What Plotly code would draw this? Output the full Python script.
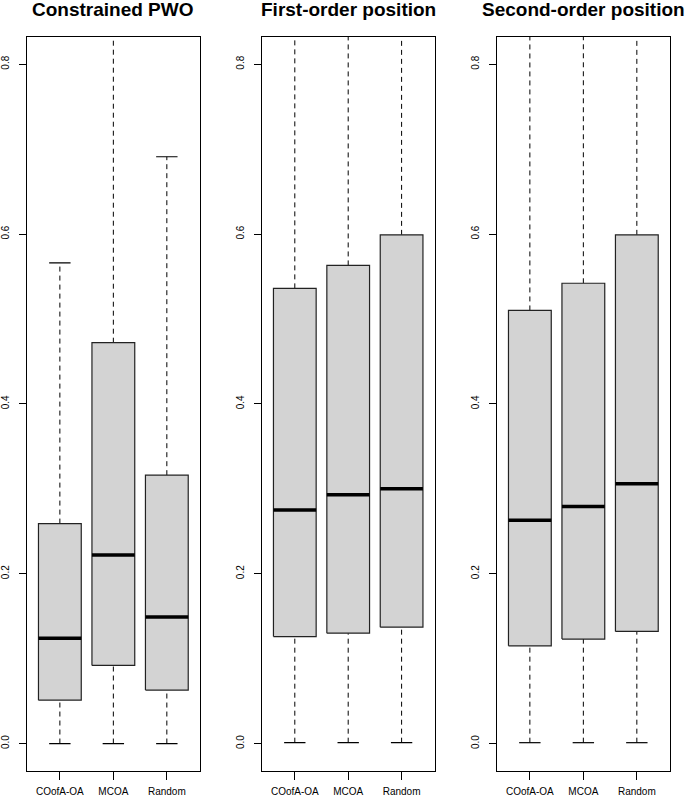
import plotly.graph_objects as go

# grupos e titulos dos paineis
grupos = ["COofA-OA", "MCOA", "Random"]
titulos = ["Constrained PWO", "First-order position", "Second-order position"]

# estatisticas (bigode inferior, Q1, mediana, Q3, bigode superior)
pwo_inferior = [0.0, 0.0, 0.0]
pwo_q1 = [0.051, 0.092, 0.063]
pwo_mediana = [0.124, 0.222, 0.149]
pwo_q3 = [0.259, 0.472, 0.316]
pwo_superior = [0.566, 0.95, 0.691]

primeira_inferior = [0.001, 0.001, 0.001]
primeira_q1 = [0.126, 0.130, 0.137]
primeira_mediana = [0.275, 0.293, 0.300]
primeira_q3 = [0.536, 0.563, 0.599]
primeira_superior = [0.95, 0.95, 0.95]

segunda_inferior = [0.001, 0.001, 0.001]
segunda_q1 = [0.115, 0.123, 0.132]
segunda_mediana = [0.263, 0.279, 0.306]
segunda_q3 = [0.510, 0.542, 0.599]
segunda_superior = [0.95, 0.95, 0.95]

paineis = [
    (pwo_inferior, pwo_q1, pwo_mediana, pwo_q3, pwo_superior),
    (primeira_inferior, primeira_q1, primeira_mediana, primeira_q3, primeira_superior),
    (segunda_inferior, segunda_q1, segunda_mediana, segunda_q3, segunda_superior),
]

LARGURA = 685
ALTURA = 798
meia_caixa = 0.4
meio_cap = 0.2
dominios = [(26.7, 200.0), (261.7, 434.7), (496.7, 670.0)]
topo, base = 37.0, 770.7

fig = go.Figure()

for i, (inf, q1, med, q3, sup) in enumerate(paineis):
    sufixo = "" if i == 0 else str(i + 1)
    xr = "x" + sufixo
    yr = "y" + sufixo
    posicoes = [1, 2, 3]

    # bigodes tracejados
    wx, wy = [], []
    for p, a, b, c, d in zip(posicoes, inf, q1, q3, sup):
        wx += [p, p, None, p, p, None]
        wy += [a, b, None, c, d, None]
    fig.add_trace(go.Scatter(x=wx, y=wy, mode="lines", xaxis=xr, yaxis=yr,
                             line=dict(color="black", width=1, dash="5px,4px"),
                             hoverinfo="skip", showlegend=False))

    # extremos dos bigodes
    cx, cy = [], []
    for p, a, d in zip(posicoes, inf, sup):
        cx += [p - meio_cap, p + meio_cap, None, p - meio_cap, p + meio_cap, None]
        cy += [a, a, None, d, d, None]
    fig.add_trace(go.Scatter(x=cx, y=cy, mode="lines", xaxis=xr, yaxis=yr,
                             line=dict(color="black", width=1.2),
                             hoverinfo="skip", showlegend=False))

    # caixas
    bx, by = [], []
    for p, b, c in zip(posicoes, q1, q3):
        bx += [p - meia_caixa, p + meia_caixa, p + meia_caixa, p - meia_caixa, p - meia_caixa, None]
        by += [b, b, c, c, b, None]
    fig.add_trace(go.Scatter(x=bx, y=by, mode="lines", fill="toself", xaxis=xr, yaxis=yr,
                             fillcolor="#D3D3D3", line=dict(color="#222222", width=1.2),
                             hoverinfo="skip", showlegend=False))

    # medianas
    mx, my = [], []
    for p, m in zip(posicoes, med):
        mx += [p - meia_caixa, p + meia_caixa, None]
        my += [m, m, None]
    fig.add_trace(go.Scatter(x=mx, y=my, mode="lines", xaxis=xr, yaxis=yr,
                             line=dict(color="black", width=3.5),
                             hoverinfo="skip", showlegend=False))

    esq, dir_ = dominios[i]
    fig.update_layout({
        "xaxis" + sufixo: dict(
            domain=[esq / LARGURA, dir_ / LARGURA], range=[0.38, 3.62],
            tickvals=posicoes, ticktext=grupos, ticks="outside", ticklen=8,
            tickcolor="black", showline=True, mirror=True, linecolor="black",
            linewidth=1.2, showgrid=False, zeroline=False, anchor=yr,
            automargin=False, ticklabelstandoff=3,
            tickfont=dict(size=10, color="black"),
        ),
        "yaxis" + sufixo: dict(
            domain=[1 - base / ALTURA, 1 - topo / ALTURA], range=[-0.032, 0.832],
            tickvals=[0, 0.2, 0.4, 0.6, 0.8], tickformat=".1f", ticks="outside",
            ticklen=7, tickcolor="black", tickangle=-90, showline=True, mirror=True,
            linecolor="black", linewidth=1.2, showgrid=False, zeroline=False,
            anchor=xr, automargin=False, ticklabelstandoff=6,
            tickfont=dict(size=10, color="black"),
        ),
    })

    fig.add_annotation(text="<b>" + titulos[i] + "</b>", xref="paper", yref="paper",
                       x=(esq + dir_) / 2 / LARGURA, y=1 - 10 / ALTURA,
                       xanchor="center", yanchor="middle", showarrow=False,
                       font=dict(size=19, color="black"))

fig.update_layout(
    width=LARGURA, height=ALTURA,
    margin=dict(l=0, r=0, t=0, b=0, autoexpand=False),
    paper_bgcolor="white", plot_bgcolor="white",
    font=dict(family="Liberation Sans, Arial, sans-serif", color="black"),
)

# tira a margem padrao do body para a figura ocupar a janela toda
fig.write_html("out.html", config={"displayModeBar": False},
               post_script="document.body.style.margin = '0';")
